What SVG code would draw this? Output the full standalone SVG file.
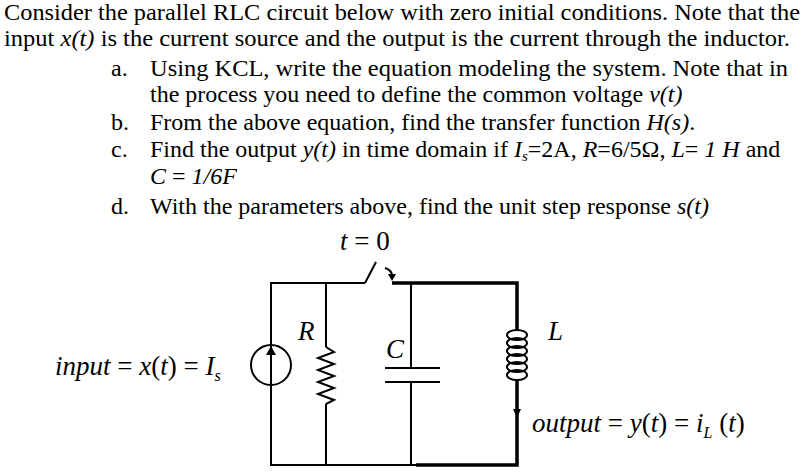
<svg xmlns="http://www.w3.org/2000/svg" width="810" height="473" viewBox="0 0 810 473">
<style>
text{font-family:"Liberation Serif",serif;font-size:24px;fill:#000}
.l{font-size:27px;font-style:italic}
.w{stroke:#000;stroke-width:2;fill:none}
.t{stroke:#000;stroke-width:3.5;fill:none}
</style>
<rect width="810" height="473" fill="#fff"/>
<g id="text">
<text x="4" y="20" textLength="796" lengthAdjust="spacingAndGlyphs">Consider the parallel RLC circuit below with zero initial conditions. Note that the</text>
<text x="4" y="46" textLength="786" lengthAdjust="spacingAndGlyphs">input <tspan font-style="italic">x(t)</tspan> is the current source and the output is the current through the inductor.</text>
<text x="111" y="76">a.</text><text x="150" y="76" textLength="638" lengthAdjust="spacingAndGlyphs">Using KCL, write the equation modeling the system. Note that in</text>
<text x="150" y="102">the process you need to define the common voltage <tspan font-style="italic">v(t)</tspan></text>
<text x="111" y="130">b.</text><text x="150" y="130">From the above equation, find the transfer function <tspan font-style="italic">H(s)</tspan>.</text>
<text x="111" y="157">c.</text><text x="150" y="157">Find the output <tspan font-style="italic">y(t)</tspan> in time domain if <tspan font-style="italic">I<tspan font-size="15" dy="4">s</tspan></tspan><tspan dy="-4">=2A, </tspan><tspan font-style="italic">R</tspan>=6/5Ω, <tspan font-style="italic">L</tspan>= <tspan font-style="italic">1 H</tspan> and</text>
<text x="150" y="184"><tspan font-style="italic">C</tspan> = <tspan font-style="italic">1/6F</tspan></text>
<text x="111" y="214">d.</text><text x="150" y="214">With the parameters above, find the unit step response <tspan font-style="italic">s(t)</tspan></text>
</g>
<g id="labels">
<text class="l" x="340" y="250">t <tspan font-style="normal">= 0</tspan></text>
<text class="l" x="298" y="340" fill="#1a1a4a">R</text>
<text class="l" x="386" y="358" fill="#1a1a4a">C</text>
<text class="l" x="548" y="340">L</text>
<text class="l" x="55" y="375">input <tspan font-style="normal">=</tspan> x<tspan font-style="normal">(</tspan>t<tspan font-style="normal">) = </tspan>I<tspan font-size="16" dy="6">s</tspan></text>
<text class="l" x="532" y="432">output <tspan font-style="normal">=</tspan> y<tspan font-style="normal">(</tspan>t<tspan font-style="normal">) = </tspan>i<tspan font-size="16" dy="6">L</tspan><tspan dy="-6" font-style="normal"> (</tspan>t<tspan font-style="normal">)</tspan></text>
</g>
<g id="connectors">
<path class="w" d="M365 283 H271 V465 H416"/>
<path class="w" d="M326 283 V347 M326 404 V465"/>
<path class="w" d="M365 283 L376 262"/>
<path class="w" d="M385 268 Q392 270 392 276"/>
<path d="M388 274 L392 281 L396 274 Z"/>
<path class="t" d="M392 283 H517 V330 M517 380 V465 H416"/>
<path class="w" d="M411 283 V368 M411 382 V465"/>
<path class="w" d="M385 368 H440 M385 382 H440"/>
<path d="M513 409 L517 418 L521 409 Z"/>
</g>
<g id="source"><circle class="w" cx="271" cy="365" r="20"/><path class="w" d="M271 385 V348"/><path d="M266 355 L271 346 L276 355 Z"/></g>
<g id="resistor"><path class="w" d="M326 347 L334 352 L318 358 L334 364 L318 370 L334 376 L318 382 L334 388 L318 394 L334 400 L326 404"/></g>
<g id="inductor"><g class="w"><ellipse cx="517" cy="335" rx="10" ry="5"/><ellipse cx="517" cy="343" rx="10" ry="5"/><ellipse cx="517" cy="351" rx="10" ry="5"/><ellipse cx="517" cy="359" rx="10" ry="5"/><ellipse cx="517" cy="367" rx="10" ry="5"/><ellipse cx="517" cy="375" rx="10" ry="5"/></g></g>
</svg>
